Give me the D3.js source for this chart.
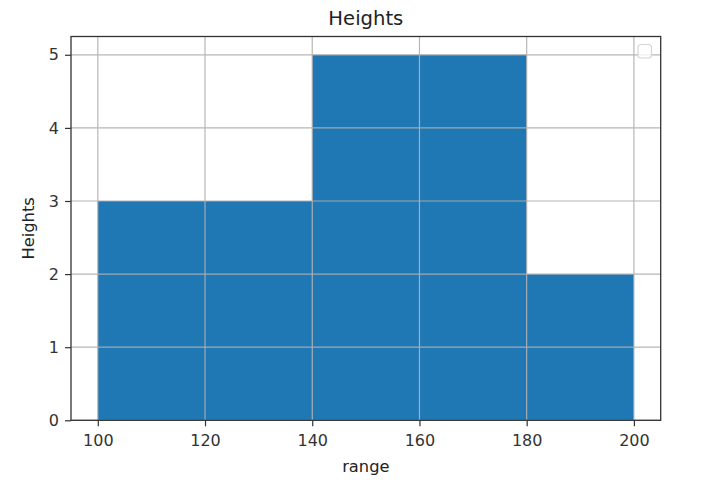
<!DOCTYPE html>
<html><head><meta charset="utf-8">
<script src="https://cdn.jsdelivr.net/npm/d3@7"></script>
<style>body{margin:0;background:#fff}svg{display:block}</style>
</head><body>
<script>
const binStarts = [100, 120, 140, 160, 180];
const binEnds = [120, 140, 160, 180, 200];
const counts = [3, 3, 5, 5, 2];
const xTicks = [100, 120, 140, 160, 180, 200];
const yTicks = [0, 1, 2, 3, 4, 5];
const title = "Heights", xLabel = "range", yLabel = "Heights";

const W = 703, H = 492;
const L = 71, R = 660.7, T = 36.5, B = 420.3;
const font = "DejaVu Sans";
const svg = d3.select("body").append("svg").attr("width", W).attr("height", H);
const x = d3.scaleLinear().domain([95, 205]).range([L, R]);
const y = d3.scaleLinear().domain([0, 5.25]).range([B, T]);

svg.append("g").selectAll("rect").data(counts).join("rect")
  .attr("x", (d,i) => x(binStarts[i]))
  .attr("width", (d,i) => x(binEnds[i]) - x(binStarts[i]))
  .attr("y", d => y(d)).attr("height", d => y(0) - y(d))
  .attr("fill", "#1f77b4");

// grid on top
const grid = svg.append("g").attr("stroke", "#b0b0b0").attr("stroke-width", 1.2).attr("opacity", 0.9);
grid.selectAll(".gx").data(xTicks).join("line")
  .attr("x1", d => x(d)).attr("x2", d => x(d)).attr("y1", T).attr("y2", B);
grid.selectAll(".gy").data(yTicks).join("line")
  .attr("y1", d => y(d)).attr("y2", d => y(d)).attr("x1", L).attr("x2", R);

const xa = svg.append("g").attr("transform", `translate(0,${B})`)
  .call(d3.axisBottom(x).tickValues(xTicks).tickSize(6).tickPadding(8).tickFormat(d3.format("d")));
const ya = svg.append("g").attr("transform", `translate(${L},0)`)
  .call(d3.axisLeft(y).tickValues(yTicks).tickSize(6).tickPadding(6).tickFormat(d3.format("d")));
[xa, ya].forEach(a => {
  a.select(".domain").remove();
  a.selectAll(".tick line").attr("stroke", "#333").attr("stroke-width", 1.2);
  a.selectAll(".tick text").attr("fill", "#333").style("font-family", font).style("font-size", "16px");
});

svg.append("rect").attr("x", L).attr("y", T).attr("width", R - L).attr("height", B - T)
  .attr("fill", "none").attr("stroke", "#333").attr("stroke-width", 1.3);

// empty legend box
svg.append("rect").attr("x", 638).attr("y", 44.5).attr("width", 13.5).attr("height", 13.5)
  .attr("rx", 3).attr("fill", "#fff").attr("fill-opacity", 0.8)
  .attr("stroke", "#d6d6d6").attr("stroke-width", 1.2);

svg.append("text").attr("x", (L + R) / 2).attr("y", 25).attr("text-anchor", "middle")
  .style("font-family", font).style("font-size", "19.6px").attr("fill", "#222").text(title);
svg.append("text").attr("x", (L + R) / 2).attr("y", 472).attr("text-anchor", "middle")
  .style("font-family", font).style("font-size", "16.3px").attr("fill", "#222").text(xLabel);
svg.append("text").attr("transform", `translate(34,${(T + B) / 2}) rotate(-90)`).attr("text-anchor", "middle")
  .style("font-family", font).style("font-size", "16.3px").attr("fill", "#222").text(yLabel);
</script>
</body></html>
